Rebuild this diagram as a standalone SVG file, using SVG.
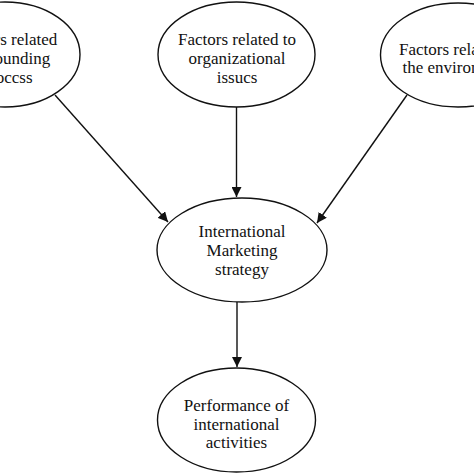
<svg xmlns="http://www.w3.org/2000/svg" width="474" height="474" viewBox="0 0 474 474">
<defs>
<style>
.n ellipse{fill:#fff;stroke:#111;stroke-width:1.4}
.n text{font-family:"Liberation Serif","Times New Roman",serif;font-size:17px;fill:#111;text-anchor:middle}
.c line{stroke:#111;stroke-width:1.4}
</style>
<marker id="ah" viewBox="0 0 10 10" refX="10" refY="5" markerWidth="10" markerHeight="10" markerUnits="userSpaceOnUse" orient="auto">
<path d="M0,0 L10,5 L0,10 z" fill="#111"/>
</marker>
</defs>
<rect width="474" height="474" fill="#fff"/>
<g id="connectors" class="c">
<line x1="55" y1="95" x2="168" y2="222" marker-end="url(#ah)"/>
<line x1="236.5" y1="107" x2="236.5" y2="197" marker-end="url(#ah)"/>
<line x1="407" y1="95" x2="317" y2="223" marker-end="url(#ah)"/>
<line x1="237" y1="302" x2="237" y2="367" marker-end="url(#ah)"/>
</g>
<g id="node-founding" class="n">
<ellipse cx="5" cy="54.5" rx="75" ry="52.5"/>
<text x="7" y="45">Factors related</text>
<text x="7" y="64">the founding</text>
<text x="7" y="83">proccss</text>
</g>
<g id="node-organizational" class="n">
<ellipse cx="236.5" cy="54.5" rx="78.5" ry="52.5"/>
<text x="237" y="45">Factors related to</text>
<text x="237" y="64">organizational</text>
<text x="237" y="83">issucs</text>
</g>
<g id="node-environment" class="n">
<ellipse cx="458" cy="55" rx="77.5" ry="52"/>
<text x="458" y="55">Factors related to</text>
<text x="458" y="73">the environment</text>
</g>
<g id="node-strategy" class="n">
<ellipse cx="242" cy="250" rx="85" ry="52"/>
<text x="242" y="237">International</text>
<text x="242" y="256">Marketing</text>
<text x="242" y="275">strategy</text>
</g>
<g id="node-performance" class="n">
<ellipse cx="236.5" cy="420" rx="79" ry="52"/>
<text x="236.5" y="411">Performance of</text>
<text x="236.5" y="430">international</text>
<text x="236.5" y="448">activities</text>
</g>
</svg>
